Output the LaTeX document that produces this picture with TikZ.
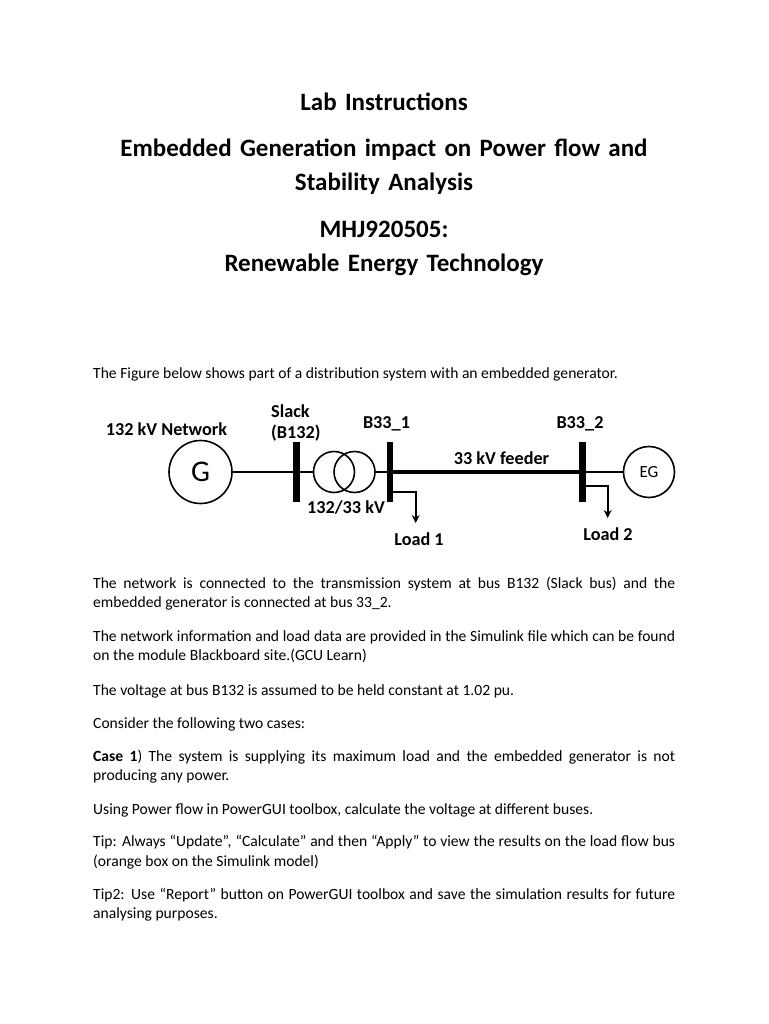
\documentclass[tikz,border=0pt]{standalone}
\usepackage{fontspec}
\setmainfont{Carlito}
\usetikzlibrary{arrows.meta}
\tikzset{
  titletext/.style={font=\fontsize{25}{34}\selectfont\bfseries,align=center,text width=600pt,inner sep=0pt},
  bodytext/.style={anchor=north west,font=\fontsize{15.6}{19.4}\selectfont,align=justify,text width=582pt,inner sep=0pt},
  lbl/.style={font=\fontsize{18.2}{21}\selectfont\bfseries,inner sep=0pt,align=center},
  bus/.style={fill=black,minimum width=6.5pt,minimum height=60pt,inner sep=0pt},
  mach/.style={draw,circle,line width=1.6pt,inner sep=0pt},
  xfmr/.style={draw,circle,line width=1.6pt,inner sep=0pt,minimum size=41pt},
  load/.style={line width=2pt,-{Stealth[length=8pt,width=8pt]}}
}
\begin{document}
\begin{tikzpicture}[x=1pt,y=-1pt]
\useasboundingbox (0,0) rectangle (768,1024);

\node[titletext] (title1) at (384,102) {Lab Instructions};
\node[titletext] (title2) at (384,166.5) {Embedded Generation impact on Power flow and\\Stability Analysis};
\node[titletext] (title3) at (384,248) {MHJ920505:\\Renewable Energy Technology};

\node[bodytext] (intro) at (93,367) {The Figure below shows part of a distribution system with an embedded generator.};

\node[mach,minimum size=63pt,font=\fontsize{30}{30}\selectfont] (g) at (200.5,472) {G};
\node[bus] (b132) at (296.7,472) {};
\node[xfmr] (t1) at (334,472) {};
\node[xfmr] (t2) at (354.5,472) {};
\node[bus] (b331) at (390,472) {};
\node[bus] (b332) at (582.3,472) {};
\node[mach,minimum size=51pt,font=\fontsize{17}{17}\selectfont] (eg) at (649,472) {EG};
\coordinate (l1a) at (390,491.7);
\coordinate (l1b) at (415.7,491.7);
\coordinate (l1c) at (415.7,523);
\coordinate (l2a) at (582.3,486);
\coordinate (l2b) at (607.7,486);
\coordinate (l2c) at (607.7,518);

\draw[line width=2.6pt] (g) -- (b132);
\draw[line width=2.6pt] (b132) -- (t1);
\draw[line width=2.6pt] (t2) -- (b331);
\draw[line width=4.5pt] (b331) -- (b332);
\draw[line width=2.6pt] (b332) -- (eg);
\draw[load] (l1a) -- (l1b) -- (l1c);
\draw[load] (l2a) -- (l2b) -- (l2c);

\node[lbl] (netlbl) at (166.5,429.5) {132 kV Network};
\node[lbl,anchor=west,align=left] (slacklbl) at (271,423) {Slack\\(B132)};
\node[lbl] (b331lbl) at (386.5,424) {B33\_1};
\node[lbl] (b332lbl) at (580,424) {B33\_2};
\node[lbl] (feedlbl) at (501.5,458) {33 kV feeder};
\node[lbl] (xfmrlbl) at (346,508) {132/33 kV};
\node[lbl] (l1lbl) at (419,539) {Load 1};
\node[lbl] (l2lbl) at (608,534) {Load 2};

\node[bodytext] (p1) at (93,576.5) {The network is connected to the transmission system at bus B132 (Slack bus) and the\linebreak embedded generator is connected at bus 33\_2.};
\node[bodytext] (p2) at (93,630.5) {The network information and load data are provided in the Simulink file which can be found\linebreak on the module Blackboard site.(GCU Learn)};
\node[bodytext] (p3) at (93,684) {The voltage at bus B132 is assumed to be held constant at 1.02 pu.};
\node[bodytext] (p4) at (93,717) {Consider the following two cases:};
\node[bodytext] (p5) at (93,749.5) {\textbf{Case 1}) The system is supplying its maximum load and the embedded generator is not\linebreak producing any power.};
\node[bodytext] (p6) at (93,803) {Using Power flow in PowerGUI toolbox, calculate the voltage at different buses.};
\node[bodytext] (p7) at (93,835.5) {Tip: Always “Update”, “Calculate” and then “Apply” to view the results on the load flow bus\linebreak (orange box on the Simulink model)};
\node[bodytext] (p8) at (93,888) {Tip2: Use “Report” button on PowerGUI toolbox and save the simulation results for future\linebreak analysing purposes.};
\end{tikzpicture}
\end{document}
